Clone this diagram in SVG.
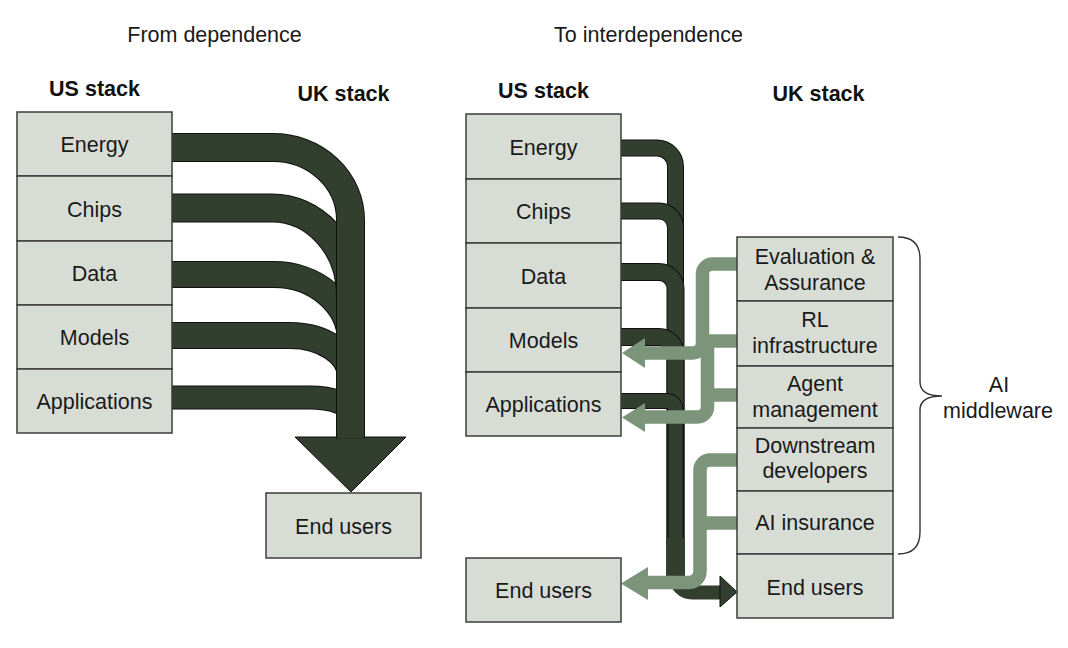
<svg xmlns="http://www.w3.org/2000/svg" width="1068" height="648" viewBox="0 0 1068 648">
<style>
.box{fill:#d7ddd5;stroke:#3c3c3c;stroke-width:1.5}
.t{font-family:"Liberation Sans",Arial,sans-serif;font-size:21.5px;fill:#1a1a1a;text-anchor:middle}
.b{font-weight:bold;fill:#111}
.o{fill:none;stroke:#111}
.d{fill:none;stroke:#323e2e}
.l{fill:none;stroke:#7b947a;stroke-width:13.5}
.dh{fill:#323e2e;stroke:#111;stroke-width:1}
.lh{fill:#7b947a}
</style>
<rect width="1068" height="648" fill="#fff"/>
<g id="titles">
<text class="t" x="214.5" y="42">From dependence</text>
<text class="t" x="648.5" y="42">To interdependence</text>
<text class="t b" x="94.5" y="96">US stack</text>
<text class="t b" x="343.5" y="101">UK stack</text>
<text class="t b" x="543.5" y="98">US stack</text>
<text class="t b" x="818.5" y="101">UK stack</text>
</g>
<g id="connectors">
<g id="left-flows">
<path class="o" stroke-width="24" d="M172,397.5 H310 A40.5,15 0 0 1 350.5,412.5 V438"/>
<path class="d" stroke-width="22" d="M172,397.5 H310 A40.5,15 0 0 1 350.5,412.5 V438"/>
<path class="o" stroke-width="27" d="M172,335.5 H290 A60.5,41 0 0 1 350.5,376.5 V438"/>
<path class="d" stroke-width="25" d="M172,335.5 H290 A60.5,41 0 0 1 350.5,376.5 V438"/>
<path class="o" stroke-width="27" d="M172,274.5 H274 A76.5,66.5 0 0 1 350.5,341 V438"/>
<path class="d" stroke-width="25" d="M172,274.5 H274 A76.5,66.5 0 0 1 350.5,341 V438"/>
<path class="o" stroke-width="29" d="M172,208 H272 A78.5,87 0 0 1 350.5,295 V438"/>
<path class="d" stroke-width="27" d="M172,208 H272 A78.5,87 0 0 1 350.5,295 V438"/>
<polygon class="dh" points="295,437 406,437 351,492"/>
<path class="o" stroke-width="29" d="M172,147.5 H273 A77.5,72.5 0 0 1 350.5,220 V438.5"/>
<path class="d" stroke-width="27" d="M172,147.5 H273 A77.5,72.5 0 0 1 350.5,220 V438.5"/>
</g>
<g id="right-dark-flows">
<path class="o" stroke-width="17" d="M621,148 H657 A18.5,18.5 0 0 1 675.5,166.5 V578"/>
<path class="d" stroke-width="15" d="M621,148 H657 A18.5,18.5 0 0 1 675.5,166.5 V578"/>
<path class="o" stroke-width="17" d="M621,211 H659 A16.5,16.5 0 0 1 675.5,227.5 V578"/>
<path class="d" stroke-width="15" d="M621,211 H659 A16.5,16.5 0 0 1 675.5,227.5 V578"/>
<path class="o" stroke-width="18" d="M621,272 H659 A16.5,16.5 0 0 1 675.5,288.5 V578"/>
<path class="d" stroke-width="16" d="M621,272 H659 A16.5,16.5 0 0 1 675.5,288.5 V578"/>
<path class="o" stroke-width="18" d="M621,337 H659 A16.5,16.5 0 0 1 675.5,353.5 V578"/>
<path class="d" stroke-width="16" d="M621,337 H659 A16.5,16.5 0 0 1 675.5,353.5 V578"/>
<path class="o" stroke-width="16" d="M621,401 H667 A8.5,8.5 0 0 1 675.5,409.5 V578"/>
<path class="d" stroke-width="14" d="M621,401 H667 A8.5,8.5 0 0 1 675.5,409.5 V578"/>
<path class="d" stroke-width="19" d="M675.5,538 V576"/>
<path class="d" stroke-width="14" d="M675.5,560 V576 A16.5,16.5 0 0 0 692,592.5 H722"/>
<polygon class="dh" stroke="none" points="720,576 737,592 720,607"/>
</g>
<g id="right-light-flows">
<path class="l" d="M737,264 H712.5 A10,10 0 0 0 702.5,274 V343 A10,10 0 0 1 692.5,353 H644"/>
<polygon class="lh" points="645,338 645,368 622,353"/>
<path class="l" d="M737,341 H702.5"/>
<path class="l" d="M737,395 H707.5"/>
<path class="l" d="M707.5,347 V407 A10,10 0 0 1 697.5,417 H644"/>
<polygon class="lh" points="645,403 645,432 622,417.5"/>
<path class="l" d="M737,460 H710 A10,10 0 0 0 700,470 V571.5 A11,11 0 0 1 689,582.5 H647"/>
<polygon class="lh" points="648,567 648,600 621,583.5"/>
<path class="l" d="M737,523 H700"/>
</g>
</g>
<g id="us-stack-left">
<g id="l-energy"><rect class="box" x="17" y="112" width="155" height="64"/><text class="t" x="94.5" y="152">Energy</text></g>
<g id="l-chips"><rect class="box" x="17" y="176" width="155" height="65"/><text class="t" x="94.5" y="216.5">Chips</text></g>
<g id="l-data"><rect class="box" x="17" y="241" width="155" height="64"/><text class="t" x="94.5" y="281">Data</text></g>
<g id="l-models"><rect class="box" x="17" y="305" width="155" height="64"/><text class="t" x="94.5" y="345">Models</text></g>
<g id="l-apps"><rect class="box" x="17" y="369" width="155" height="64"/><text class="t" x="94.5" y="409">Applications</text></g>
</g>
<g id="l-endusers"><rect class="box" x="266" y="493" width="155" height="65"/><text class="t" x="343.5" y="533.5">End users</text></g>
<g id="us-stack-right">
<g id="r-energy"><rect class="box" x="466" y="114" width="155" height="65"/><text class="t" x="543.5" y="154.5">Energy</text></g>
<g id="r-chips"><rect class="box" x="466" y="179" width="155" height="64"/><text class="t" x="543.5" y="219">Chips</text></g>
<g id="r-data"><rect class="box" x="466" y="243" width="155" height="65"/><text class="t" x="543.5" y="283.5">Data</text></g>
<g id="r-models"><rect class="box" x="466" y="308" width="155" height="64"/><text class="t" x="543.5" y="348">Models</text></g>
<g id="r-apps"><rect class="box" x="466" y="372" width="155" height="64"/><text class="t" x="543.5" y="412">Applications</text></g>
</g>
<g id="r-us-endusers"><rect class="box" x="466" y="558" width="155" height="64"/><text class="t" x="543.5" y="598">End users</text></g>
<g id="uk-stack-right">
<g id="uk-eval"><rect class="box" x="737" y="237" width="156" height="64"/><text class="t" x="815" y="264">Evaluation &amp;</text><text class="t" x="815" y="290">Assurance</text></g>
<g id="uk-rl"><rect class="box" x="737" y="301" width="156" height="65"/><text class="t" x="815" y="327">RL</text><text class="t" x="815" y="353">infrastructure</text></g>
<g id="uk-agent"><rect class="box" x="737" y="366" width="156" height="62"/><text class="t" x="815" y="391">Agent</text><text class="t" x="815" y="417">management</text></g>
<g id="uk-downstream"><rect class="box" x="737" y="428" width="156" height="63"/><text class="t" x="815" y="453">Downstream</text><text class="t" x="815" y="478">developers</text></g>
<g id="uk-insurance"><rect class="box" x="737" y="491" width="156" height="63"/><text class="t" x="815" y="530">AI insurance</text></g>
<g id="uk-endusers"><rect class="box" x="737" y="554" width="156" height="64"/><text class="t" x="815" y="595">End users</text></g>
</g>
<g id="ai-middleware">
<path fill="none" stroke="#333" stroke-width="1.4" d="M898,237 Q920,237 920,259 V382 Q920,396 942,396 Q920,396 920,410 V532 Q920,554 898,554"/>
<text class="t" x="999" y="392">AI</text>
<text class="t" x="998" y="418">middleware</text>
</g>
</svg>
